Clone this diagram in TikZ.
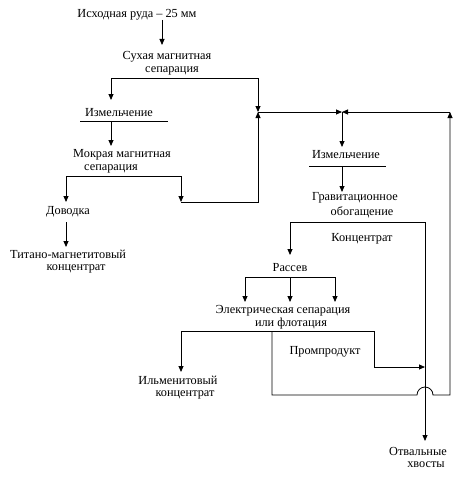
\documentclass[tikz,border=0pt]{standalone}
\usepackage{fontspec}
\setmainfont{Liberation Serif}
\usetikzlibrary{arrows.meta}
\begin{document}
\begin{tikzpicture}[x=1pt,y=-1pt,
  lbl/.style={inner sep=0pt,anchor=center,font=\fontsize{12.3}{14}\selectfont},
  ln/.style={line width=0.8pt,line join=miter},
  arr/.style={ln,-{Triangle[length=6pt,width=5pt]}},
  arrb/.style={ln,{Triangle[length=6pt,width=5pt]}-{Triangle[length=6pt,width=5pt]}}]
\useasboundingbox (0,0) rectangle (474,487);
% texts
\node[lbl] (t1) at (137,15) {Исходная руда – 25 мм};
\node[lbl] (s1a) at (167,57) {Сухая магнитная};
\node[lbl] (s1b) at (172,71) {сепарация};
\node[lbl] (m1) at (119,113) {Измельчение};
\node[lbl] (w1a) at (122,155) {Мокрая магнитная};
\node[lbl] (w1b) at (111,169) {сепарация};
\node[lbl] (d) at (68,212) {Доводка};
\node[lbl] (tca) at (68,254) {Титано-магнетитовый};
\node[lbl] (tcb) at (76,269) {концентрат};
\node[lbl] (m2) at (346,155) {Измельчение};
\node[lbl] (ga) at (355,198) {Гравитационное};
\node[lbl] (gb) at (362,212) {обогащение};
\node[lbl] (k) at (362,239) {Концентрат};
\node[lbl] (r) at (290,268) {Рассев};
\node[lbl] (ea) at (283,311) {Электрическая сепарация};
\node[lbl] (eb) at (291,324) {или флотация};
\node[lbl] (p) at (325,352) {Промпродукт};
\node[lbl] (ia) at (178,380) {Ильменитовый};
\node[lbl] (ib) at (185,395) {концентрат};
\node[lbl] (oa) at (418,451) {Отвальные};
\node[lbl] (ob) at (426,465) {хвосты};
% junction coordinates
\coordinate (j1) at (258,112);
\coordinate (j2) at (342,112);
\coordinate (j3) at (450,112);
% connectors
\draw[arr] (162,20) -- (162,45);
\draw[arrb] (111,100) |- (258,78) -- (j1);
\draw[ln] (80,121) -- (168,121);
\draw[arr] (111,121) -- (111,146);
\draw[arrb] (66,202) |- (181,176) -- (181,202);
\draw[arr] (181,202) -| (j1);
\draw[arr] (66,222) -- (66,247);
\draw[arr] (j1) -- (j2);
\draw[arr] (j3) -- (j2);
\draw[arr] (j2) -- (342,147);
\draw[ln] (309,166) -- (386,166);
\draw[arr] (342,166) -- (342,192);
\draw[arrb] (290,255) |- (425,222) -- (425,441);
\draw[arrb] (245,302) |- (335,277) -- (335,302);
\draw[arr] (290,277) -- (290,302);
\draw[arrb] (181,372) |- (374,331) |- (425,367);
\draw[arr] (272,331) -- (272,395) -- (417,395) arc[start angle=180,end angle=0,radius=8pt] -- (450,395) -- (j3);
\end{tikzpicture}
\end{document}
